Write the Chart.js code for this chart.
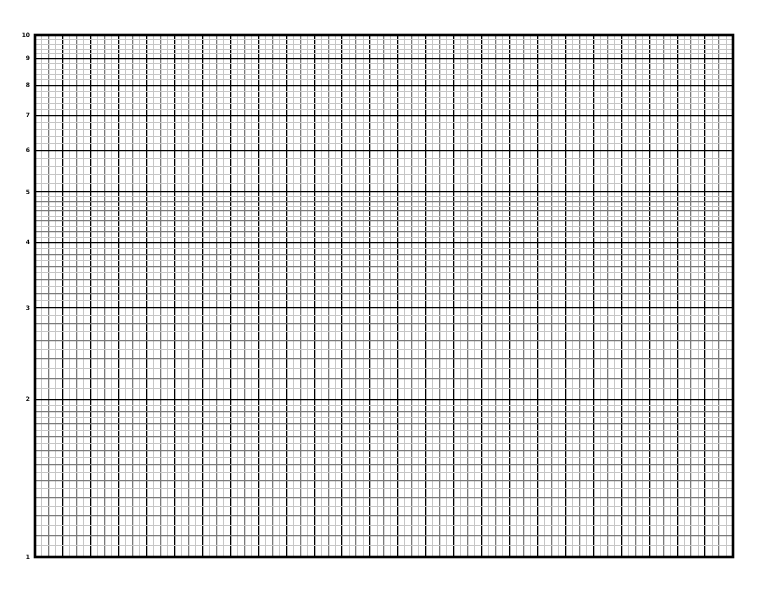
<!DOCTYPE html>
<html>
<head>
<meta charset="utf-8">
<script src="https://cdn.jsdelivr.net/npm/chart.js@4.4.0/dist/chart.umd.min.js"></script>
<style>
  html, body { margin: 0; padding: 0; background: #fff; }
  canvas { display: block; }
</style>
</head>
<body>
<canvas id="paper" width="768" height="593"></canvas>
<script>
// semi-log graph paper: linear x with 100 divisions, log y over one decade
const xMin = 0;
const xMax = 100;
const xStep = 1;

const yMajor = [1, 2, 3, 4, 5, 6, 7, 8, 9, 10];
const yTickLabels = ['1', '2', '3', '4', '5', '6', '7', '8', '9', '10'];
// [from, to, step] for the minor rulings inside the decade
const yMinorFrom = [1, 2, 5];
const yMinorTo = [2, 5, 10];
const yMinorStep = [0.05, 0.1, 0.2];
const yDarkEvery = [0.1, 0.2, 0];

const black = '#000000';
const darkGrey = '#7a7a7a';
const lightGrey = '#c6c6c6';

function yValues() {
  const out = [];
  for (let s = 0; s < yMinorFrom.length; s++) {
    const n = Math.round((yMinorTo[s] - yMinorFrom[s]) / yMinorStep[s]);
    for (let k = 0; k < n; k++) {
      out.push(Math.round((yMinorFrom[s] + k * yMinorStep[s]) * 100) / 100);
    }
  }
  out.push(yMajor[yMajor.length - 1]);
  return out;
}
const yAll = yValues();

function yShade(v) {
  if (yMajor.includes(v)) return 'major';
  for (let s = 0; s < yMinorFrom.length; s++) {
    if (v > yMinorFrom[s] && v < yMinorTo[s]) {
      const d = yDarkEvery[s];
      if (d && Math.abs(v / d - Math.round(v / d)) < 1e-6) return 'dark';
      return 'light';
    }
  }
  return 'light';
}

function xShade(v) {
  if (v % 4 === 0) return 'major';
  if (v % 2 === 0) return 'dark';
  return 'light';
}

const shadeColor = { major: black, dark: darkGrey, light: lightGrey };
const shadeWidth = { major: 1.3, dark: 1.3, light: 1 };

const frame = {
  id: 'frame',
  afterDraw(chart) {
    const a = chart.chartArea;
    const c = chart.ctx;
    c.save();
    c.strokeStyle = black;
    c.lineWidth = 2.6;
    c.strokeRect(a.left, a.top, a.right - a.left, a.bottom - a.top);
    c.restore();
  }
};

new Chart(document.getElementById('paper'), {
  type: 'scatter',
  data: { datasets: [] },
  options: {
    responsive: false,
    animation: false,
    devicePixelRatio: 1,
    layout: { padding: { left: 0, top: 35, right: 35, bottom: 36 } },
    plugins: { legend: { display: false }, tooltip: { enabled: false } },
    scales: {
      x: {
        type: 'linear',
        min: xMin,
        max: xMax,
        ticks: { stepSize: xStep, display: false, autoSkip: false },
        grid: {
          drawTicks: false,
          color: ctx => shadeColor[xShade(Math.round(ctx.tick.value))],
          lineWidth: ctx => shadeWidth[xShade(Math.round(ctx.tick.value))]
        },
        border: { display: false },
        afterFit: s => { s.height = 0; }
      },
      y: {
        type: 'logarithmic',
        min: 1,
        max: 10,
        afterBuildTicks: s => { s.ticks = yAll.map(v => ({ value: v })); },
        ticks: {
          autoSkip: false,
          padding: 5,
          color: black,
          font: { family: 'DejaVu Sans', size: 6, weight: 'bold' },
          callback: v => {
            const i = yMajor.indexOf(v);
            return i >= 0 ? yTickLabels[i] : '';
          }
        },
        grid: {
          drawTicks: false,
          color: ctx => shadeColor[yShade(ctx.tick.value)],
          lineWidth: ctx => shadeWidth[yShade(ctx.tick.value)]
        },
        border: { display: false },
        afterFit: s => { s.width = 35; }
      }
    }
  },
  plugins: [frame]
});
</script>
</body>
</html>
